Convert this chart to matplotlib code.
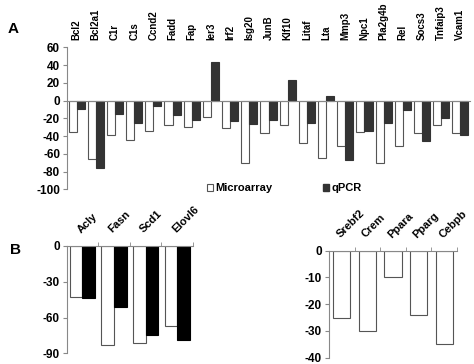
import numpy as np
import matplotlib
matplotlib.use('Agg')
import matplotlib.pyplot as plt
from matplotlib.patches import Patch

plt.rcParams['font.family'] = ['Liberation Sans', 'DejaVu Sans']
plt.rcParams['font.weight'] = 'bold'
plt.rcParams['axes.unicode_minus'] = False

# panel A data
genes_a = ['Bcl2', 'Bcl2a1', 'C1r', 'C1s', 'Ccnd2', 'Fadd', 'Fap', 'Ier3', 'Irf2',
           'Isg20', 'JunB', 'Klf10', 'Litaf', 'Lta', 'Mmp3', 'Npc1', 'Pla2g4b',
           'Rel', 'Socs3', 'Tnfaip3', 'Vcam1']
micro_a = [-35, -66, -39, -44, -34, -28, -30, -19, -31, -70, -37, -28, -48, -65,
           -51, -35, -70, -51, -37, -28, -36]
qpcr_a = [-10, -76, -15, -25, -6, -16, -22, 43, -23, -26, -22, 23, -25, 5,
          -67, -34, -25, -11, -46, -20, -39]

# panel B left data
genes_bl = ['Acly', 'Fasn', 'Scd1', 'Elovl6']
micro_bl = [-43, -83, -81, -67]
qpcr_bl = [-44, -51, -75, -79]

# panel B right data
genes_br = ['Srebf2', 'Crem', 'Ppara', 'Pparg', 'Cebpb']
micro_br = [-25, -30, -10, -24, -35]

edge = '#555555'
dark = '#333333'
W, H = 474, 364

fig = plt.figure(figsize=(W / 100, H / 100), dpi=100)


def style_axes(ax, ymin, ymax, step, n):
    for s in ['top', 'right']:
        ax.spines[s].set_visible(False)
    ax.spines['left'].set_color('#888888')
    ax.spines['bottom'].set_color('#888888')
    ax.spines['bottom'].set_position(('data', 0))
    ax.set_ylim(ymin, ymax)
    ax.set_yticks(np.arange(ymin, ymax + 1, step))
    ax.set_xlim(-0.5, n - 0.5)
    ax.set_xticks(np.arange(n) + 0.5, minor=True)
    ax.tick_params(axis='y', length=3, color='#888888', labelsize=8.5, pad=2)
    ax.tick_params(axis='x', which='minor', length=3, direction='in', color='#888888')
    ax.tick_params(axis='x', which='major', length=0)


# panel A
axA = fig.add_axes([67 / W, 1 - 189.3 / H, 403 / W, 142 / H])
x = np.arange(len(genes_a))
w = 0.42
axA.bar(x - w / 2, micro_a, w, color='white', edgecolor=edge, linewidth=0.8)
axA.bar(x + w / 2, qpcr_a, w, color=dark, edgecolor=dark, linewidth=0.8)
style_axes(axA, -100, 60, 20, len(genes_a))
axA.tick_params(axis='x', which='minor', length=0)
axA.set_xticks(x)
axA.set_xticklabels(genes_a, rotation=90, fontsize=7)
axA.tick_params(axis='x', labeltop=True, labelbottom=False, pad=5)
fig.text(8 / W, 1 - 29 / H, 'A', fontsize=11, fontweight='bold', va='center')

handles = [Patch(facecolor='white', edgecolor=edge, linewidth=0.8),
           Patch(facecolor=dark, edgecolor=dark)]
fig.legend(handles, ['Microarray', 'qPCR'], loc='center left',
           bbox_to_anchor=(201 / W, 1 - 188 / H), ncol=2, frameon=False,
           fontsize=8, handlelength=0.6, handleheight=0.6, handletextpad=0.2,
           columnspacing=4.5, borderpad=0)

# panel B left
axBL = fig.add_axes([66.7 / W, 1 - 353.3 / H, 126.3 / W, 107.3 / H])
xb = np.arange(len(genes_bl))
wb = 0.4
axBL.bar(xb - wb / 2, micro_bl, wb, color='white', edgecolor=edge, linewidth=0.8)
axBL.bar(xb + wb / 2, qpcr_bl, wb, color='black', edgecolor='black', linewidth=0.8)
style_axes(axBL, -90, 0, 30, len(genes_bl))
axBL.set_xticks(xb)
axBL.set_xticklabels(genes_bl, rotation=45, fontsize=8, ha='left',
                     rotation_mode='anchor')
axBL.tick_params(axis='x', labeltop=True, labelbottom=False, pad=8)
fig.text(10 / W, 1 - 250 / H, 'B', fontsize=11, fontweight='bold', va='center')

# panel B right
axBR = fig.add_axes([329 / W, 1 - 357.7 / H, 128 / W, 107 / H])
xr = np.arange(len(genes_br))
axBR.bar(xr, micro_br, 0.67, color='white', edgecolor=edge, linewidth=0.8)
style_axes(axBR, -40, 0, 10, len(genes_br))
axBR.set_xticks(xr)
axBR.set_xticklabels(genes_br, rotation=45, fontsize=8, ha='left',
                     rotation_mode='anchor')
axBR.tick_params(axis='x', labeltop=True, labelbottom=False, pad=8)

fig.savefig('out.png', dpi=100)
